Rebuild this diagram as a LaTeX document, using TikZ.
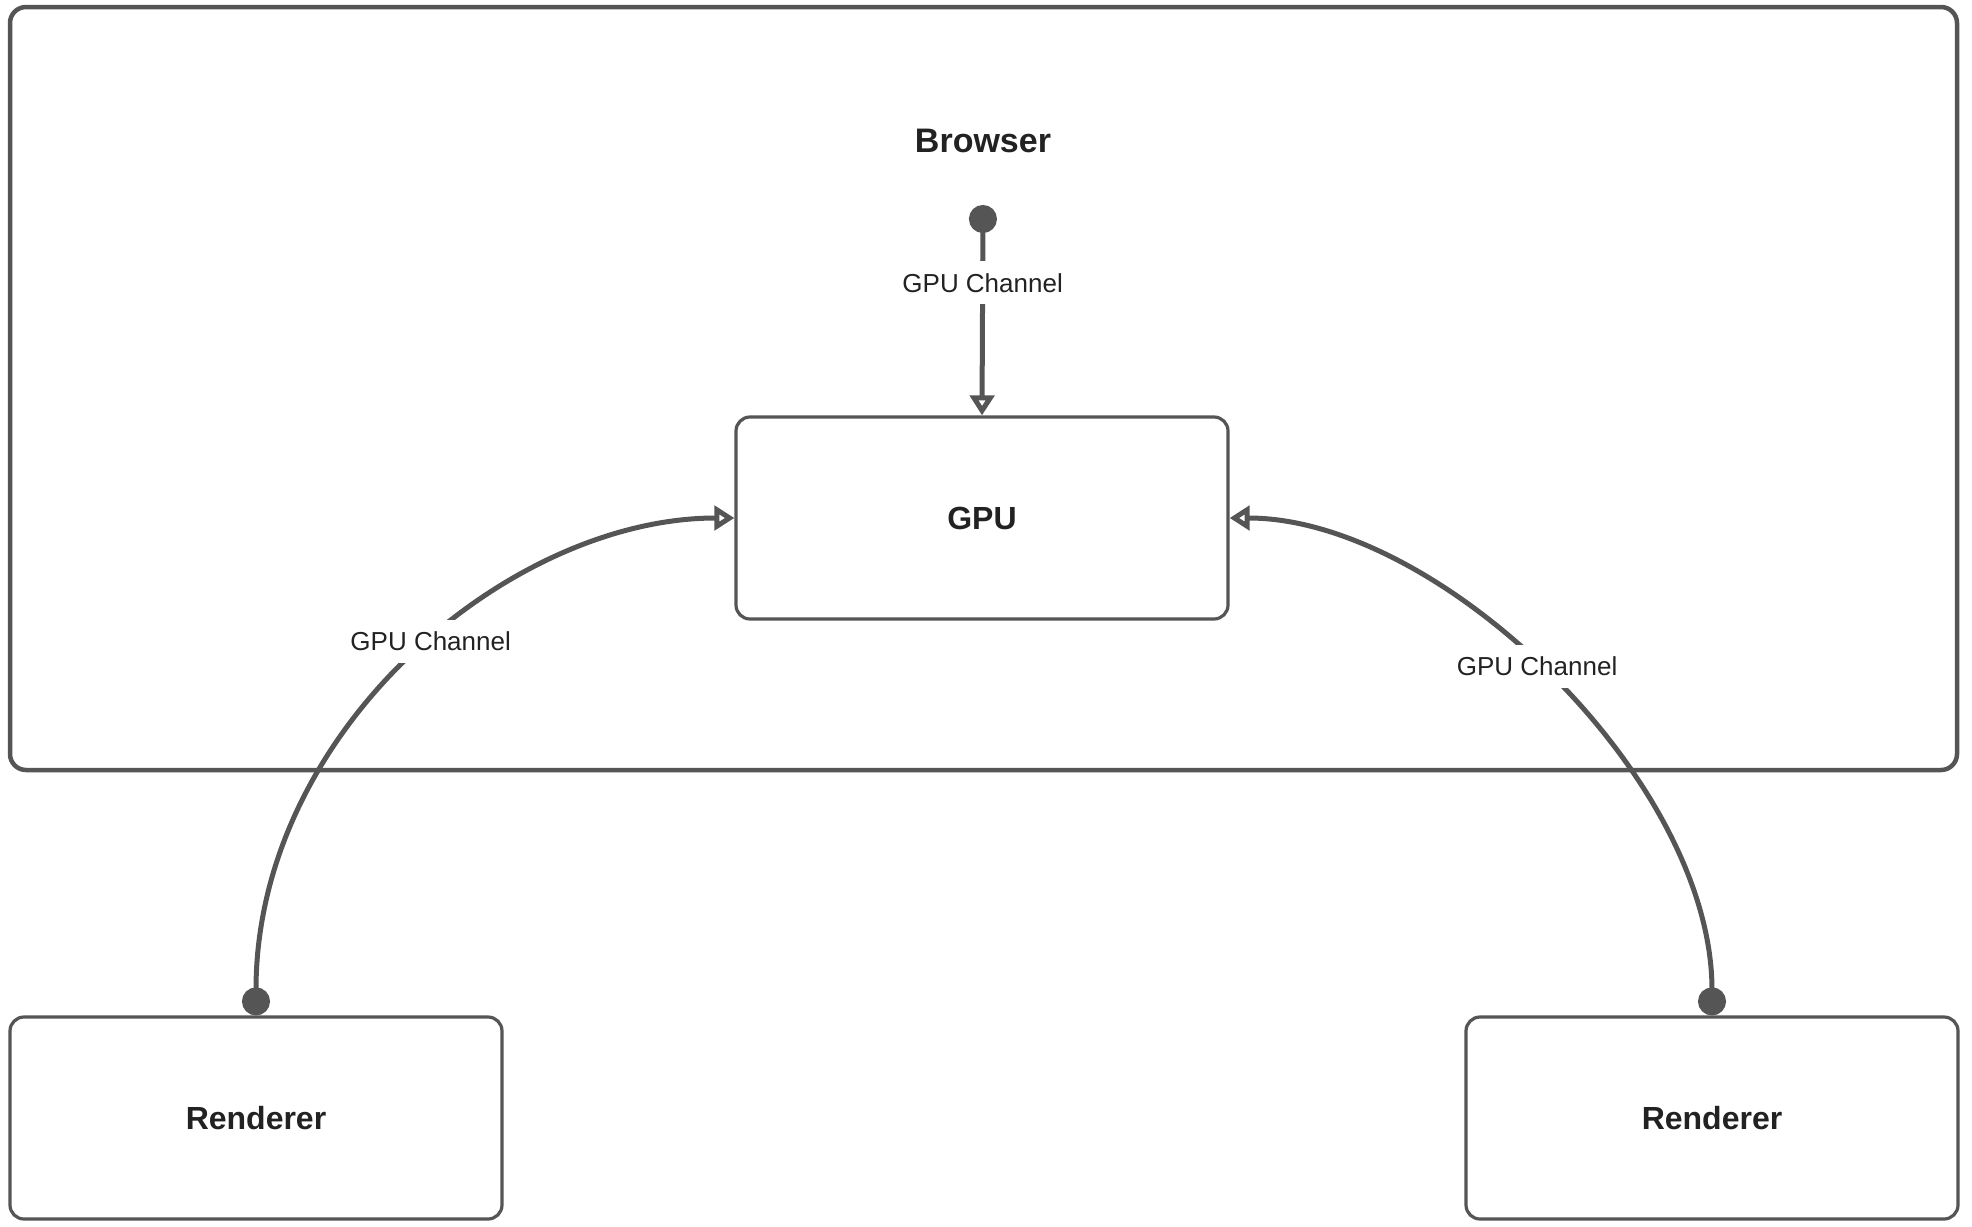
\documentclass[tikz,border=0pt]{standalone}
\usepackage{fontspec}
\setmainfont{Liberation Sans}
\usetikzlibrary{arrows.meta}
\definecolor{edgecol}{HTML}{555555}
\definecolor{ink}{HTML}{222222}
\begin{document}
\begin{tikzpicture}[x=1pt,y=-1pt,
  box/.style={draw=edgecol, line width=3.2pt, rounded corners=14pt, fill=white, inner sep=0pt,
    text=ink, font=\fontsize{32}{36}\selectfont\bfseries},
  smallbox/.style={box, minimum width=492pt, minimum height=202pt},
  conn/.style={draw=edgecol, line width=5pt,
    {Circle[length=28pt]}-{Triangle[open, length=20pt, width=24pt]}},
  lbl/.style={fill=white, text=ink, font=\fontsize{26}{30}\selectfont, inner xsep=4pt, inner ysep=12pt}
]
\useasboundingbox (0,0) rectangle (1972,1226);
\node[box, line width=4.5pt, rounded corners=16pt, minimum width=1947pt, minimum height=763pt] (browser) at (983.5,388.5) {};
\node[text=ink, font=\fontsize{34}{38}\selectfont\bfseries] (blabel) at (983,141) {Browser};
\node[smallbox] (gpu) at (982,518) {GPU};
\node[smallbox] (rl) at (256,1118) {Renderer};
\node[smallbox] (rr) at (1712,1118) {Renderer};
\coordinate (src) at (983,205);
\draw[conn] (src) -- (gpu.north) node[pos=0.37, lbl] {GPU Channel};
\draw[conn] (rl.north) .. controls (256,730) and (510,518) .. (gpu.west) node[pos=0.535, lbl] {GPU Channel};
\draw[conn] (rr.north) .. controls (1712,780) and (1440,518) .. (gpu.east) node[pos=0.522, lbl] {GPU Channel};
\end{tikzpicture}
\end{document}
